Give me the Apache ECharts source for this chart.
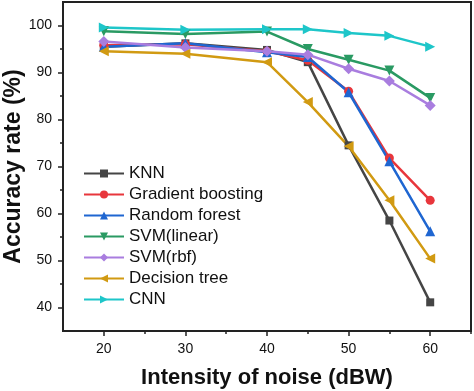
<!DOCTYPE html>
<html><head><meta charset="utf-8">
<script src="https://cdn.jsdelivr.net/npm/echarts@6/dist/echarts.min.js"></script>
<style>html,body{margin:0;padding:0;background:#fff}#c{width:474px;height:391px}</style>
</head><body><div id="c"></div>
<script>
const noise = [20, 30, 40, 45, 50, 55, 60];
const knn = [95.5, 96.2, 94.8, 92.2, 74.5, 58.5, 41.1];
const gradientBoosting = [95.8, 96.0, 94.5, 92.6, 86.0, 71.8, 62.8];
const randomForest = [95.5, 96.2, 94.3, 93.3, 85.8, 71.1, 56.2];
const svmLinear = [98.8, 98.2, 98.7, 95.0, 92.7, 90.4, 84.6];
const svmRbf = [96.6, 95.3, 94.5, 93.8, 90.8, 88.2, 83.0];
const decisionTree = [94.5, 94.0, 92.2, 83.7, 74.3, 62.8, 50.4];
const cnn = [99.6, 99.1, 99.2, 99.2, 98.4, 97.8, 95.5];
const yMajor = [40, 50, 60, 70, 80, 90, 100];
const yMinor = [45, 55, 65, 75, 85, 95];
const xMajor = [20, 30, 40, 50, 60];
const xMinor = [25, 35, 45, 55, 65];

const font = 'Liberation Sans, Arial, sans-serif';
const defs = [
  ['KNN', knn, '#454545', 'rect', 0, 8],
  ['Gradient boosting', gradientBoosting, '#e8363c', 'circle', 0, 9],
  ['Random forest', randomForest, '#1f66d1', 'triangle', 0, 10],
  ['SVM(linear)', svmLinear, '#2a9a63', 'triangle', 180, 10],
  ['SVM(rbf)', svmRbf, '#a97ddf', 'diamond', 0, 11],
  ['Decision tree', decisionTree, '#d19a12', 'triangle', 90, 10],
  ['CNN', cnn, '#1ec6c9', 'triangle', -90, 10]
];
const series = defs.map(d => ({
  name: d[0], type: 'line', xAxisIndex: 0, yAxisIndex: 0,
  data: noise.map((x, i) => [x, d[1][i]]),
  symbol: d[3], symbolRotate: d[4], symbolSize: d[5],
  lineStyle: {color: d[2], width: 2.5},
  itemStyle: {color: d[2]},
  animation: false
}));
const chart = echarts.init(document.getElementById('c'));
chart.setOption({
  animation: false,
  grid: {left: 63, right: 3, top: 2, bottom: 60, show: true, borderColor: '#222', borderWidth: 2,
         containLabel: false, outerBoundsMode: 'none'},
  legend: {
    orient: 'vertical', left: 78, top: 160, itemWidth: 40, itemHeight: 10, itemGap: 4,
    textStyle: {fontFamily: font, fontSize: 17, color: '#111', lineHeight: 16},
    data: defs.map(d => d[0])
  },
  xAxis: [{
    type: 'value', min: 15, max: 65,
    axisLine: {lineStyle: {color: '#222', width: 2}},
    axisTick: {customValues: xMajor, length: 5, lineStyle: {color: '#222', width: 1.5}},
    axisLabel: {customValues: xMajor, fontFamily: font, fontSize: 14, color: '#111', margin: 11},
    splitLine: {show: false},
    name: 'Intensity of noise (dBW)', nameLocation: 'middle', nameGap: 36, nameMoveOverlap: false,
    nameTextStyle: {fontFamily: font, fontSize: 22, fontWeight: 'bold', color: '#111'}
  }, {
    type: 'value', min: 15, max: 65, position: 'bottom',
    axisLine: {show: false},
    axisTick: {customValues: xMinor, length: 3, lineStyle: {color: '#222', width: 1.5}},
    axisLabel: {show: false}, splitLine: {show: false}
  }],
  yAxis: [{
    type: 'value', min: 35, max: 105,
    axisLine: {show: true, lineStyle: {color: '#222', width: 2}},
    axisTick: {show: true, customValues: yMajor, length: 5, lineStyle: {color: '#222', width: 1.5}},
    axisLabel: {customValues: yMajor, fontFamily: font, fontSize: 14, color: '#111', margin: 11},
    splitLine: {show: false},
    name: 'Accuracy rate (%)', nameLocation: 'middle', nameGap: 38, nameMoveOverlap: false,
    nameTextStyle: {fontFamily: font, fontSize: 23, fontWeight: 'bold', color: '#111'}
  }, {
    type: 'value', min: 35, max: 105, position: 'left',
    axisLine: {show: false},
    axisTick: {show: true, customValues: yMinor, length: 3, lineStyle: {color: '#222', width: 1.5}},
    axisLabel: {show: false}, splitLine: {show: false}
  }],
  series: series
});
</script></body></html>
